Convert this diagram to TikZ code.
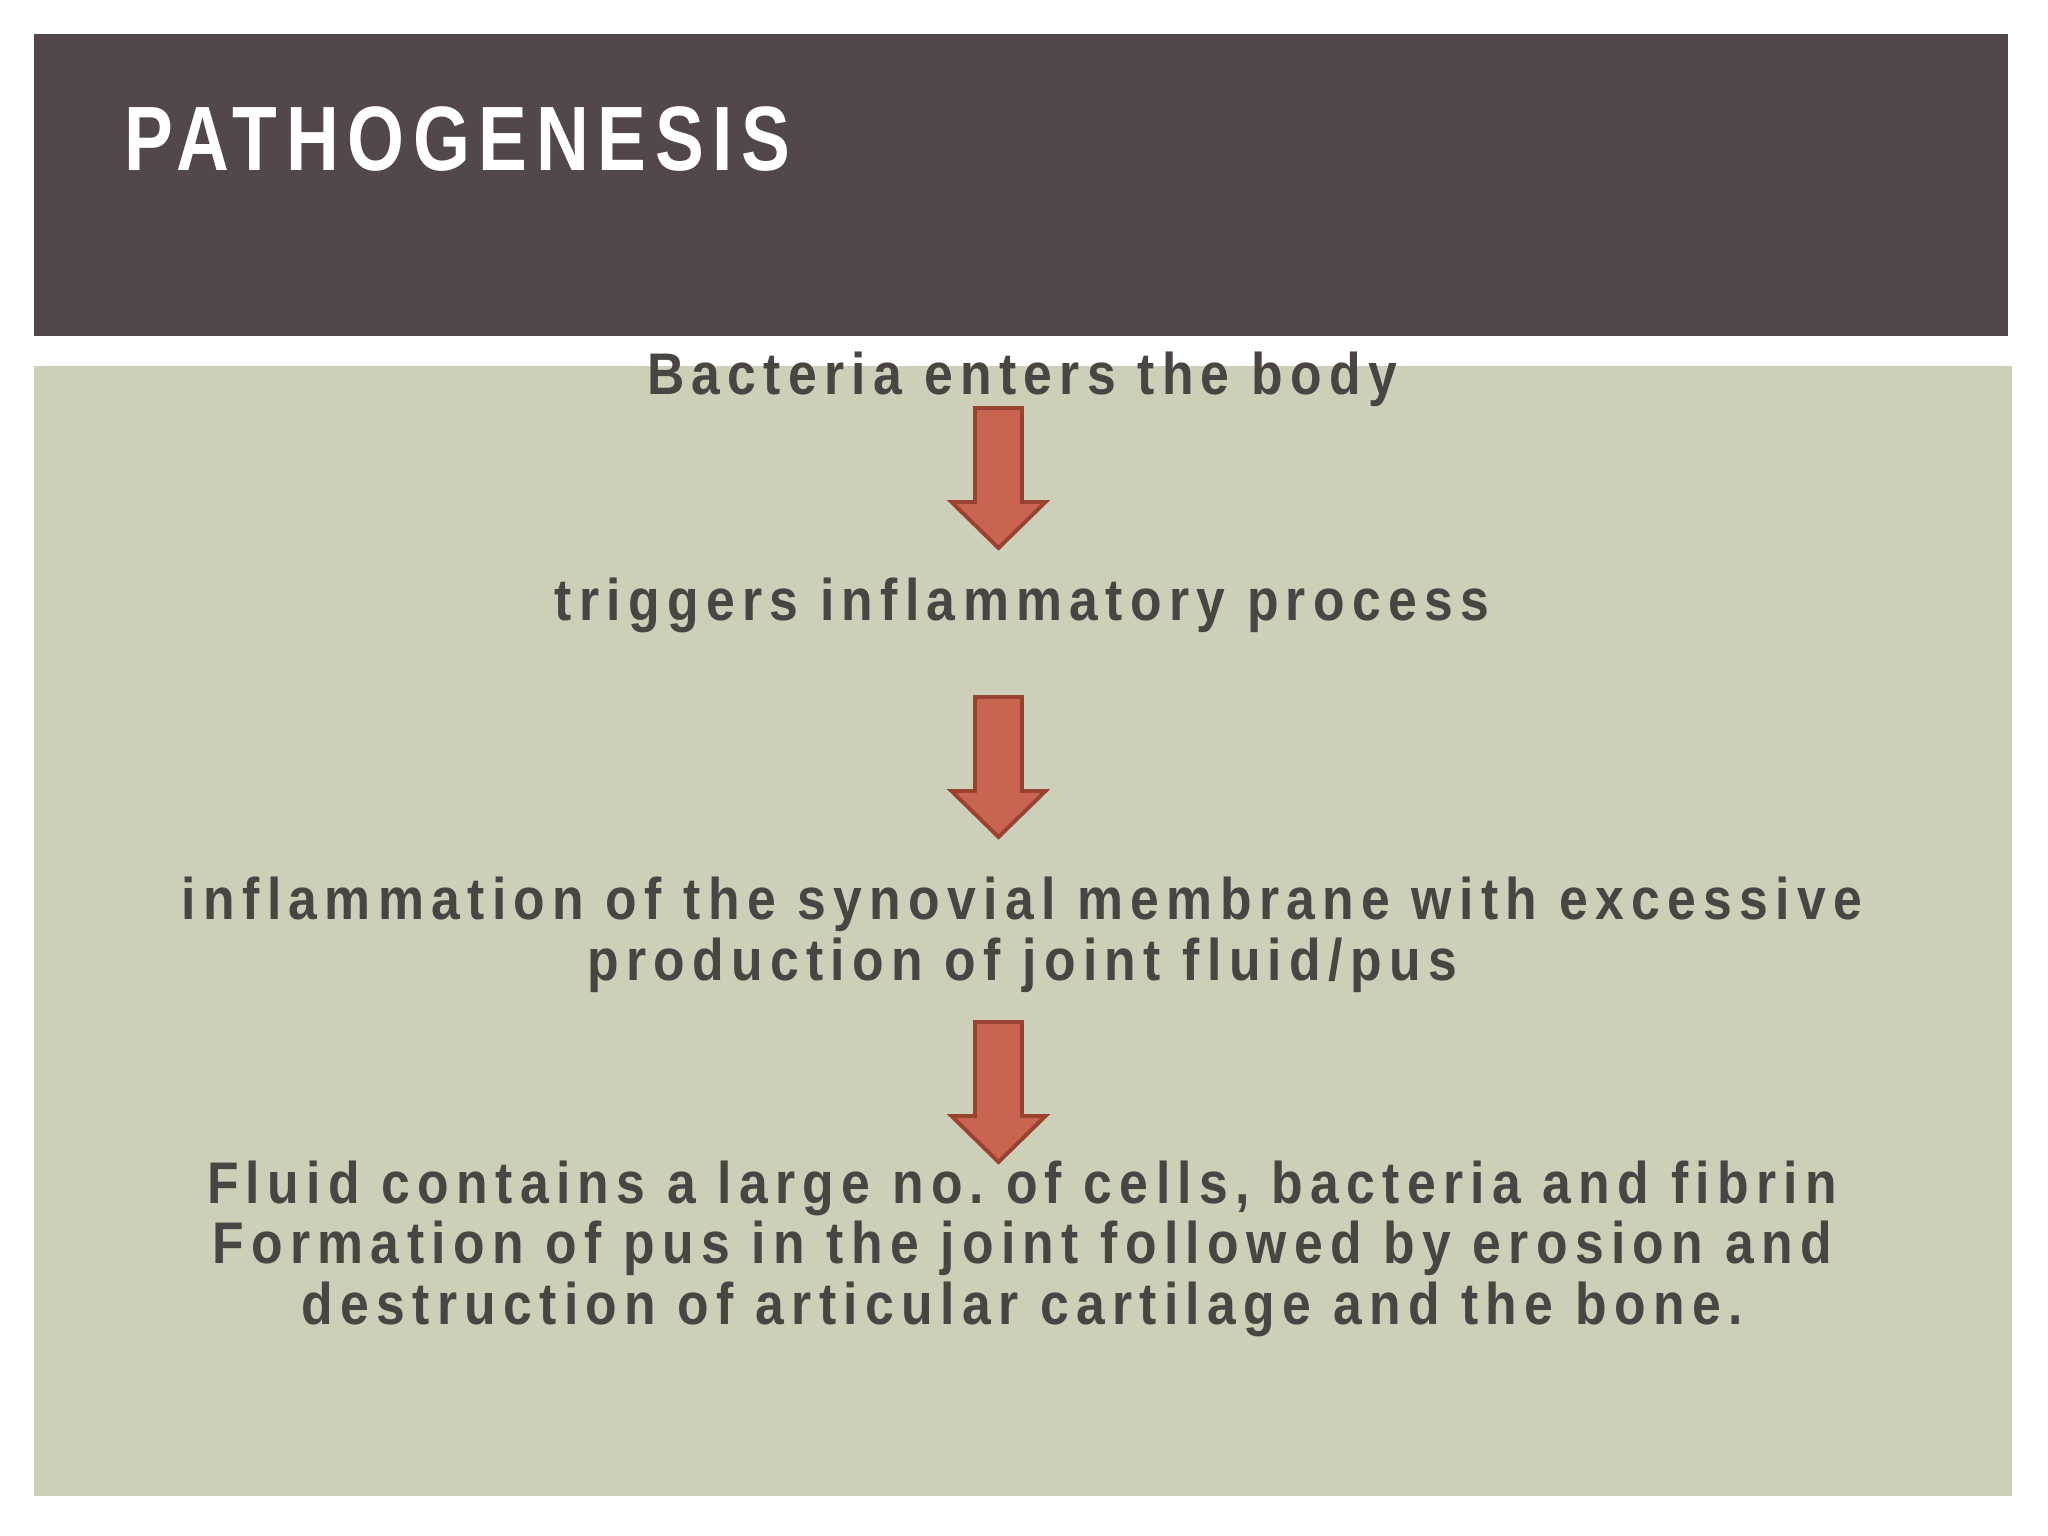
\documentclass[tikz,border=0pt]{standalone}
\usepackage{fontspec}
\setmainfont{Liberation Sans}
\newfontfamily\titlefont[FakeStretch=0.8,LetterSpace=9.5]{Liberation Sans Bold}
\newfontfamily\stepfont[FakeStretch=0.88,LetterSpace=12.5]{Liberation Sans Bold}
\usetikzlibrary{positioning}
\definecolor{headbrown}{HTML}{52484A}
\definecolor{sage}{HTML}{CDCFB8}
\definecolor{inkgray}{HTML}{4A4442}
\definecolor{arrowfill}{HTML}{C8644F}
\definecolor{arrowline}{HTML}{9A4232}
\tikzset{
  steptext/.style={text=inkgray,font=\stepfont\fontsize{16.7}{17.07}\selectfont\frenchspacing,
    align=center,anchor=base,inner sep=0pt},
  blockarrow/.style={fill=arrowfill,draw=arrowline,line width=1.1pt,line join=miter}
}

\begin{document}
\begin{tikzpicture}[x=0.01cm,y=-0.01cm]
  \useasboundingbox[fill=white] (0,0) rectangle (2048,1536);
  % slide panels
  \fill[headbrown] (34,34) rectangle (2008,336);
  \fill[sage] (34,366) rectangle (2012,1496);

  \node[anchor=base west,text=white,inner sep=0pt,
    font=\titlefont\fontsize{26}{30}\selectfont] (title) at (124,170) {PATHOGENESIS};

  % the steps (base = baseline of the last line)
  \node[steptext] (bacteria) at (1022,394) {Bacteria enters the body};
  \node[steptext] (triggers) at (1022,620) {triggers inflammatory process};
  \node[steptext] (synovial) at (1022,980)
    {inflammation of the synovial membrane with excessive\\production of joint fluid/pus};
  \node[steptext] (fluid) at (1022,1324)
    {Fluid contains a large no. of cells, bacteria and fibrin\\Formation of pus in the joint followed by erosion and\\destruction of articular cartilage and the bone.};

  % block arrows between the steps
  \coordinate (arrA) at (998.5,408);
  \coordinate (arrB) at (998.5,697);
  \coordinate (arrC) at (998.5,1022);
  \foreach \a in {arrA,arrB,arrC}
    \draw[blockarrow] (\a) ++(-23.5,0) -- ++(47,0) -- ++(0,94) -- ++(23.5,0)
      -- ++(-47,46) -- ++(-47,-46) -- ++(23.5,0) -- cycle;
\end{tikzpicture}
\end{document}
